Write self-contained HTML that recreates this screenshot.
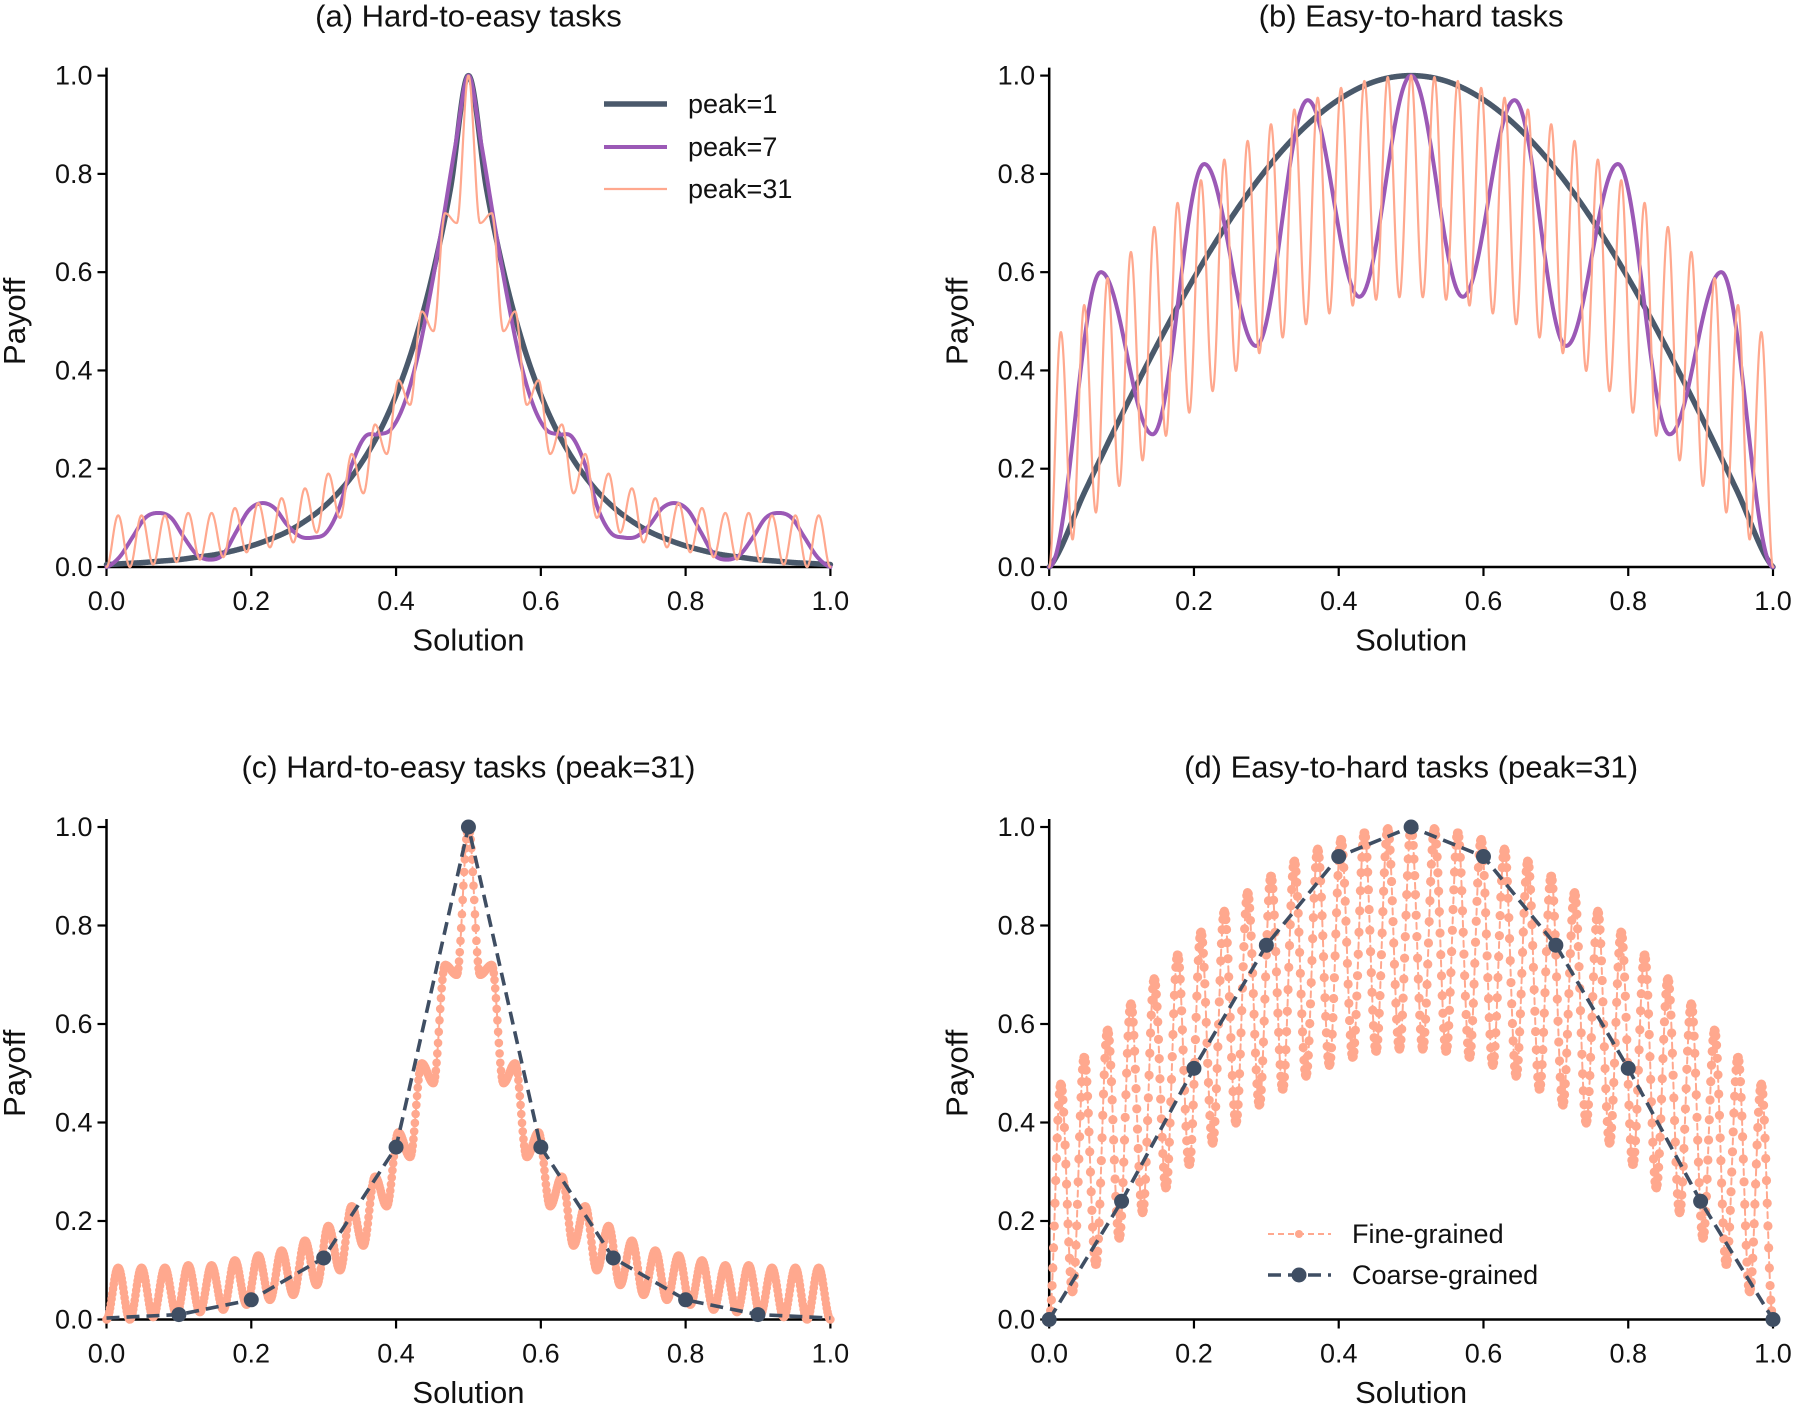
<!DOCTYPE html>
<html><head><meta charset="utf-8"><style>
html,body{margin:0;padding:0;background:#fff;}
svg{display:block;font-family:"Liberation Sans",Arial,sans-serif;}
</style></head><body>
<svg id="fig" width="1796" height="1408" viewBox="0 0 1796 1408" xmlns="http://www.w3.org/2000/svg"></svg>
<script>
// ---------- data ----------
const xTicks = [0.0,0.2,0.4,0.6,0.8,1.0];
const yTicks = [0.0,0.2,0.4,0.6,0.8,1.0];
const tickLabels = ["0.0","0.2","0.4","0.6","0.8","1.0"];
// Hard-to-easy peak=1 sampled at x = 0,0.025,...,1
const hePeak1 = [0.005,0.007,0.009,0.012,0.015,0.02,0.025,0.033,0.043,0.056,0.072,0.094,0.122,0.159,0.207,0.269,0.35,0.455,0.592,0.769,1.0,
                 0.769,0.592,0.455,0.35,0.269,0.207,0.159,0.122,0.094,0.072,0.056,0.043,0.033,0.025,0.02,0.015,0.012,0.009,0.007,0.005];
// Hard-to-easy peak=7 sampled at x = i/56
const hePeak7 = [0,0.02,0.06,0.10,0.11,0.10,0.06,0.025,0.015,0.025,0.07,0.115,0.13,0.12,0.085,0.062,0.06,0.07,0.12,0.21,0.265,0.27,0.28,0.33,0.42,0.55,0.70,0.86,1.0,
                 0.86,0.70,0.55,0.42,0.33,0.28,0.27,0.265,0.21,0.12,0.07,0.06,0.062,0.085,0.12,0.13,0.115,0.07,0.025,0.015,0.025,0.06,0.10,0.11,0.10,0.06,0.02,0];
// Hard-to-easy peak=31 extrema: peaks at (2k+1)/62, troughs at k/31
const he31Peaks = [0.105,0.105,0.105,0.11,0.11,0.12,0.13,0.14,0.16,0.19,0.23,0.29,0.38,0.52,0.72,1.0,0.72,0.52,0.38,0.29,0.23,0.19,0.16,0.14,0.13,0.12,0.11,0.11,0.105,0.105,0.105];
const he31Troughs = [0,0,0.005,0.01,0.015,0.02,0.03,0.04,0.05,0.07,0.1,0.15,0.23,0.33,0.48,0.70,0.70,0.48,0.33,0.23,0.15,0.1,0.07,0.05,0.04,0.03,0.02,0.015,0.01,0.005,0,0];
// Easy-to-hard peak=1 sampled at x = 0,0.05,...,1
const ehPeak1 = [0,0.156,0.309,0.454,0.588,0.707,0.809,0.891,0.951,0.988,1.0,0.988,0.951,0.891,0.809,0.707,0.588,0.454,0.309,0.156,0];
// Easy-to-hard peak=7 extrema at x = j/14
const ehPeak7 = [0,0.6,0.27,0.82,0.45,0.95,0.55,1.0,0.55,0.95,0.45,0.82,0.27,0.6,0];
// Easy-to-hard peak=31 extrema
const eh31Peaks = [0.478,0.533,0.588,0.641,0.692,0.741,0.787,0.829,0.867,0.901,0.931,0.955,0.975,0.989,0.997,1.0,0.997,0.989,0.975,0.955,0.931,0.901,0.867,0.829,0.787,0.741,0.692,0.641,0.588,0.533,0.478];
const eh31Troughs = [0,0.056,0.111,0.165,0.217,0.267,0.314,0.358,0.399,0.435,0.467,0.494,0.516,0.532,0.544,0.549,0.549,0.544,0.532,0.516,0.494,0.467,0.435,0.399,0.358,0.314,0.267,0.217,0.165,0.111,0.056,0];
// Coarse-grained samples
const coarseXHE = [0.1,0.2,0.3,0.4,0.5,0.6,0.7,0.8,0.9];
const coarseHE = [0.01,0.04,0.125,0.35,1.0,0.35,0.125,0.04,0.01];
const coarseXEH = [0,0.1,0.2,0.3,0.4,0.5,0.6,0.7,0.8,0.9,1.0];
const coarseEH = [0,0.24,0.51,0.76,0.94,1.0,0.94,0.76,0.51,0.24,0];

// ---------- helpers ----------
const NS = "http://www.w3.org/2000/svg";
const svg = document.getElementById("fig");
function el(tag, attrs, parent){
  const e = document.createElementNS(NS, tag);
  for (const k in attrs) e.setAttribute(k, attrs[k]);
  (parent||svg).appendChild(e);
  return e;
}
const C_DARK="#4a596b", C_PURP="#9b59b6", C_ORNG="#ffa88e", C_COARSE="#3f4e63";
const TICK_FS=27, TITLE_FS=31;

function mergeExtrema(tr, pk){ const out=[]; for(let i=0;i<tr.length;i++){ out.push(tr[i]); if(i<pk.length) out.push(pk[i]); } return out; }
function cosInterp(vals){ const n=vals.length-1; return x=>{ let t=x*n; let i=Math.min(Math.floor(t),n-1); const f=t-i; const a=vals[i],b=vals[i+1]; return a+(b-a)*(1-Math.cos(Math.PI*f))/2; }; }
function crInterp(vals){ const n=vals.length-1; return x=>{ let t=x*n; let i=Math.min(Math.floor(t),n-1); const f=t-i;
  const p0=vals[Math.max(i-1,0)],p1=vals[i],p2=vals[i+1],p3=vals[Math.min(i+2,n)];
  return 0.5*((2*p1)+(-p0+p2)*f+(2*p0-5*p1+4*p2-p3)*f*f+(-p0+3*p1-3*p2+p3)*f*f*f); }; }

function makePanel(p){
  const g = el("g",{});
  
  
  p.X = v=>p.x0+(p.x1-p.x0)*v;
  p.Y = v=>p.yb-(p.yb-p.yt)*v;
  p.g = g;
  const t = el("text",{x:(p.x0+p.x1)/2,y:p.titleY,"font-size":TITLE_FS,"text-anchor":"middle","dominant-baseline":"central",fill:"#111"},g);
  t.textContent = p.title;
  
  
  const ys = el("line",{x1:p.x0,y1:p.yb,x2:p.x0,y2:p.yt-8,stroke:"#000","stroke-width":2.5},g);
  
  
  const xs = el("line",{x1:p.x0-1,y1:p.yb,x2:p.x1,y2:p.yb,stroke:"#000","stroke-width":2.5},g);
  
  
  xTicks.forEach((v,i)=>{
    const tk = el("line",{x1:p.X(v),y1:p.yb,x2:p.X(v),y2:p.yb+9,stroke:"#000","stroke-width":2.2},g);
    
    
    const tl = el("text",{x:p.X(v),y:p.yb+34,"font-size":TICK_FS,"text-anchor":"middle","dominant-baseline":"central",fill:"#111"},g);
    tl.textContent = tickLabels[i];
    
    
  });
  yTicks.forEach((v,i)=>{
    const tk = el("line",{x1:p.x0-9,y1:p.Y(v),x2:p.x0,y2:p.Y(v),stroke:"#000","stroke-width":2.2},g);
    
    
    const tl = el("text",{x:p.x0-14,y:p.Y(v),"font-size":TICK_FS,"text-anchor":"end","dominant-baseline":"central",fill:"#111"},g);
    tl.textContent = tickLabels[i];
    
    
  });
  const xl = el("text",{x:(p.x0+p.x1)/2,y:p.yb+73,"font-size":TITLE_FS,"text-anchor":"middle","dominant-baseline":"central",fill:"#111"},g);
  xl.textContent = "Solution";
  
  
  const cy=(p.yb+p.yt)/2, cx=p.x0-92;
  const yl = el("text",{x:cx,y:cy,"font-size":TITLE_FS,"text-anchor":"middle","dominant-baseline":"central",fill:"#111",transform:`rotate(-90 ${cx} ${cy})`},g);
  yl.textContent = "Payoff";
  
  
  return p;
}
function drawFn(p, fn, color, width, name, n, dash){
  let d=""; const N=n||1200;
  for(let i=0;i<=N;i++){ const x=i/N; d+=(i?"L":"M")+p.X(x).toFixed(2)+","+p.Y(fn(x)).toFixed(2); }
  const a={d:d,fill:"none",stroke:color,"stroke-width":width,"stroke-linejoin":"round","stroke-linecap":"round"};
  if(dash) a["stroke-dasharray"]=dash;
  const path = el("path",a,p.g);
  
  
  return path;
}
function drawDots(p, fn, color, r, name){
  const grp = el("g",{fill:color},p.g);
  
  
  for(let i=0;i<=1000;i++){ const x=i/1000;
    const c = el("circle",{cx:p.X(x).toFixed(2),cy:p.Y(fn(x)).toFixed(2),r:r},grp);
    
    
  }
}
function drawCoarse(p, xs, vals, lineX, lineV){
  let d=""; lineX.forEach((x,i)=>{ d+=(i?"L":"M")+p.X(x)+","+p.Y(lineV[i]); });
  const path = el("path",{d:d,fill:"none",stroke:C_COARSE,"stroke-width":3.6,"stroke-dasharray":"13,7"},p.g);
  
  
  xs.forEach((x,i)=>{
    const c = el("circle",{cx:p.X(x),cy:p.Y(vals[i]),r:7.5,fill:C_COARSE},p.g);
    
    
  });
}
function legendEntry(p, x, y, color, width, label, dash, dotR){
  const g = el("g",{},p.g);
  
  
  const a={x1:x,y1:y,x2:x+63,y2:y,stroke:color,"stroke-width":width};
  if(dash) a["stroke-dasharray"]=dash;
  el("line",a,g);
  if(dotR) el("circle",{cx:x+31,cy:y,r:dotR,fill:color},g);
  const t = el("text",{x:x+84,y:y,"font-size":TICK_FS,"dominant-baseline":"central",fill:"#111"},g);
  t.textContent = label;
  
  
}

// ---------- panels ----------
const A = makePanel({name:"panel-a",title:"(a) Hard-to-easy tasks",x0:106.5,x1:830.4,yb:567,yt:75.6,titleY:16});
const B = makePanel({name:"panel-b",title:"(b) Easy-to-hard tasks",x0:1049.2,x1:1773,yb:567,yt:75.6,titleY:16});
const Cp = makePanel({name:"panel-c",title:"(c) Hard-to-easy tasks (peak=31)",x0:106.5,x1:830.4,yb:1319.5,yt:827,titleY:767});
const D = makePanel({name:"panel-d",title:"(d) Easy-to-hard tasks (peak=31)",x0:1049.2,x1:1773,yb:1319.5,yt:827,titleY:767});

const fHE1 = crInterp(hePeak1), fHE7 = crInterp(hePeak7), fHE31 = cosInterp(mergeExtrema(he31Troughs, he31Peaks));
const fEH1 = crInterp(ehPeak1), fEH7 = cosInterp(ehPeak7), fEH31 = cosInterp(mergeExtrema(eh31Troughs, eh31Peaks));

drawFn(A, fHE1, C_DARK, 5.5, "line-peak-1");
drawFn(A, fHE7, C_PURP, 4, "line-peak-7");
drawFn(A, fHE31, C_ORNG, 2.2, "line-peak-31", 2400);
legendEntry(A, 604, 104, C_DARK, 5.5, "peak=1");
legendEntry(A, 604, 147, C_PURP, 4, "peak=7");
legendEntry(A, 604, 189, C_ORNG, 2.2, "peak=31");

drawFn(B, fEH1, C_DARK, 5.5, "line-peak-1");
drawFn(B, fEH7, C_PURP, 4, "line-peak-7");
drawFn(B, fEH31, C_ORNG, 2.2, "line-peak-31", 2400);

drawFn(Cp, fHE31, C_ORNG, 2, "fine-grained-line", 2400, "6,4");
drawDots(Cp, fHE31, C_ORNG, 4.3, "fine-grained-points");
drawCoarse(Cp, coarseXHE, coarseHE, coarseXEH, [0.003].concat(coarseHE, [0.003]));

drawFn(D, fEH31, C_ORNG, 2, "fine-grained-line", 2400, "6,4");
drawDots(D, fEH31, C_ORNG, 4.6, "fine-grained-points");
drawCoarse(D, coarseXEH, coarseEH, coarseXEH, coarseEH);
legendEntry(D, 1268, 1234, C_ORNG, 2, "Fine-grained", "6,4", 4);
legendEntry(D, 1268, 1275, C_COARSE, 3.6, "Coarse-grained", "13,7", 7.5);
</script>
</body></html>
